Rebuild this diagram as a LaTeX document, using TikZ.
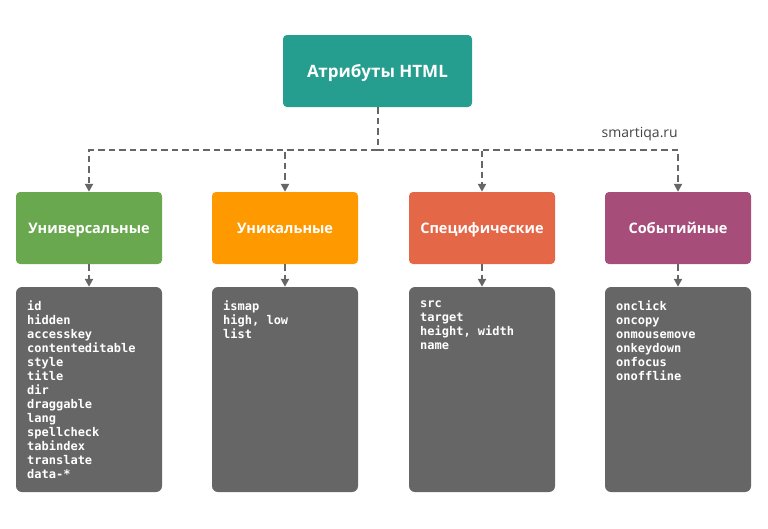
\documentclass[tikz,border=0pt]{standalone}
\usepackage{fontspec}
\setmainfont{Open Sans}
\newfontfamily\monof{DejaVu Sans Mono}
\usetikzlibrary{arrows.meta}
\definecolor{cteal}{HTML}{269E8F}
\definecolor{cgreen}{HTML}{6AA84F}
\definecolor{corange}{HTML}{FF9900}
\definecolor{cred}{HTML}{E46748}
\definecolor{cpurple}{HTML}{A64D79}
\definecolor{cgray}{HTML}{666666}
\definecolor{ctext}{HTML}{444444}
\begin{document}
\begin{tikzpicture}[x=1pt,y=-1pt,
  box/.style={rounded corners=4pt, minimum width=146pt, minimum height=72pt, inner sep=0pt, text=white, text height=10.4pt, text depth=0pt, font=\fontsize{14.5}{16}\selectfont\bfseries},
  listbox/.style={rounded corners=6pt, fill=cgray, minimum width=146pt, minimum height=205pt, inner sep=0pt},
  listtext/.style={anchor=north west, inner sep=0pt, align=left, text=white, font=\monof\bfseries\fontsize{12}{14}\selectfont},
  conn/.style={draw=cgray, line width=2pt, dash pattern=on 6.5pt off 4pt},
  arr/.style={conn, -{Triangle[width=8pt,length=8pt]}}
]
\useasboundingbox (0,0) rectangle (768,528);
\node[box, fill=cteal, minimum width=189pt, text height=12.1pt, font=\fontsize{17}{19}\selectfont\bfseries] (top) at (377.5,71) {Атрибуты HTML};
\node[box, fill=cgreen] (c1) at (89,228) {Универсальные};
\node[box, fill=corange] (c2) at (285,228) {Уникальные};
\node[box, fill=cred] (c3) at (482,228) {Специфические};
\node[box, fill=cpurple] (c4) at (678,228) {Событийные};
\node[listbox] (l1) at (89,389.5) {};
\node[listbox] (l2) at (285,389.5) {};
\node[listbox] (l3) at (482,389.5) {};
\node[listbox] (l4) at (678,389.5) {};
\node[listtext] (t1) at (27,300.5) {id\\hidden\\accesskey\\contenteditable\\style\\title\\dir\\draggable\\lang\\spellcheck\\tabindex\\translate\\data-*};
\node[listtext] (t2) at (223,300.5) {ismap\\high, low\\list};
\node[listtext] (t3) at (420,300.5) {src\\target\\height, width\\name};
\node[listtext] (t4) at (616,300.5) {onclick\\oncopy\\onmousemove\\onkeydown\\onfocus\\onoffline};
\coordinate (hub) at (377.5,150);
\draw[conn] (top.south) -- (hub);
\draw[arr] (hub) -| (c1.north);
\draw[arr] (hub) -| (c2.north);
\draw[arr] (hub) -| (c3.north);
\draw[arr] (hub) -| (c4.north);
\draw[arr] (c1.south) -- (l1.north);
\draw[arr] (c2.south) -- (l2.north);
\draw[arr] (c3.south) -- (l3.north);
\draw[arr] (c4.south) -- (l4.north);
\node[anchor=east, inner sep=0pt, text=ctext, font=\fontsize{14}{16}\selectfont] (brand) at (678,134) {smartiqa.ru};
\end{tikzpicture}
\end{document}
